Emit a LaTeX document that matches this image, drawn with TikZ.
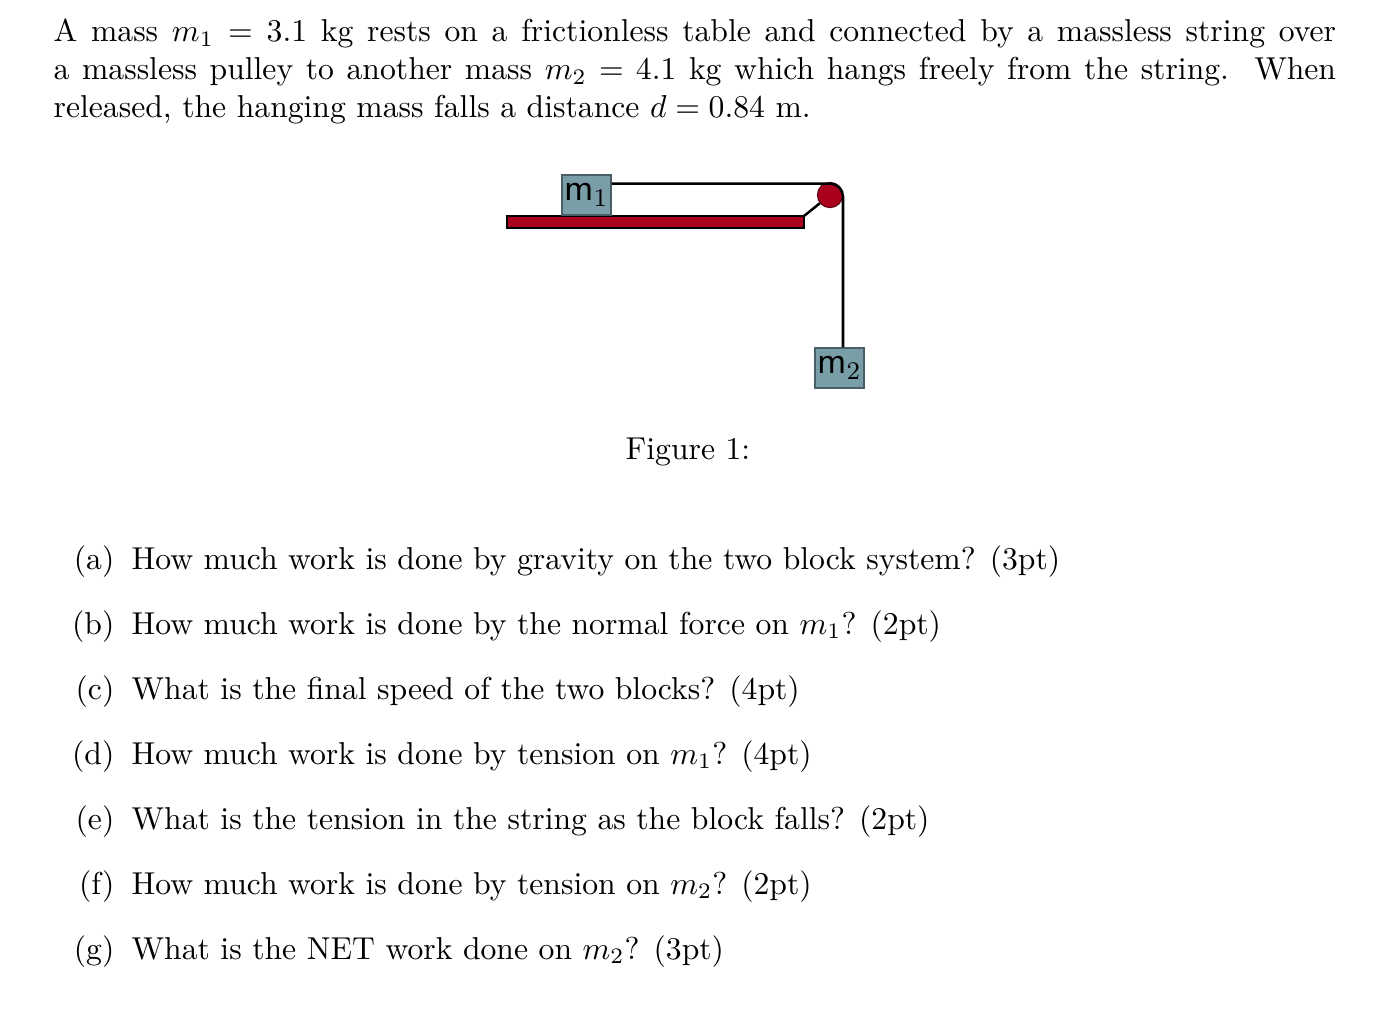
\documentclass[tikz,border=0pt]{standalone}
\definecolor{blk}{RGB}{122,158,168}
\definecolor{tred}{RGB}{170,0,30}
\begin{document}
\begin{tikzpicture}[x=0.3158pt,y=-0.3158pt,
  block/.style={draw=blk!60!black,fill=blk,inner sep=0,minimum width=49*0.3158pt,minimum height=40*0.3158pt,font=\sffamily\large},
  q/.style={anchor=base west,inner sep=0},
  ql/.style={anchor=base east,inner sep=0}]
\useasboundingbox (0,0) rectangle (1390,1028);
\node[anchor=north west,inner sep=0,text width=405pt,align=justify] (para) at (53,18)
{A mass $m_1=3.1$ kg rests on a frictionless table and connected by a massless string over a massless pulley to another mass $m_2=4.1$ kg which hangs freely from the string.\ \ When released, the hanging mass falls a distance $d=0.84$ m.};
\draw[fill=tred,line width=0.8pt] (507,216) rectangle (804,228);
\coordinate (tend) at (804,216);
\node[circle,fill=tred,draw=tred!60!black,inner sep=0,minimum size=25*0.3158pt] (pul) at (830,195) {};
\draw[line width=0.8pt] (tend) -- (pul);
\node[block] (m1) at (586.5,195) {m$_1$};
\node[block] (m2) at (839.5,368) {m$_2$};
\coordinate (ptop) at (830,183.5);
\draw[line width=0.8pt] (m1.north east |- ptop) -- (ptop) arc[start angle=-90,end angle=0,radius=13] -- (m2.north -| 843,0);
\node[anchor=base,inner sep=0] (fig) at (688,459) {Figure 1:};
\foreach \l/\t/\y in {(a)/How much work is done by gravity on the two block system? (3pt)/569,
  (b)/How much work is done by the normal force on $m_1$? (2pt)/634,
  (c)/What is the final speed of the two blocks? (4pt)/699,
  (d)/How much work is done by tension on $m_1$? (4pt)/764,
  (e)/What is the tension in the string as the block falls? (2pt)/829,
  (f)/How much work is done by tension on $m_2$? (2pt)/894,
  (g)/What is the NET work done on $m_2$? (3pt)/959}{
  \node[ql] (l\y) at (115,\y) {\l};
  \node[q] (t\y) at (131,\y) {\t};
}
\end{tikzpicture}
\end{document}
